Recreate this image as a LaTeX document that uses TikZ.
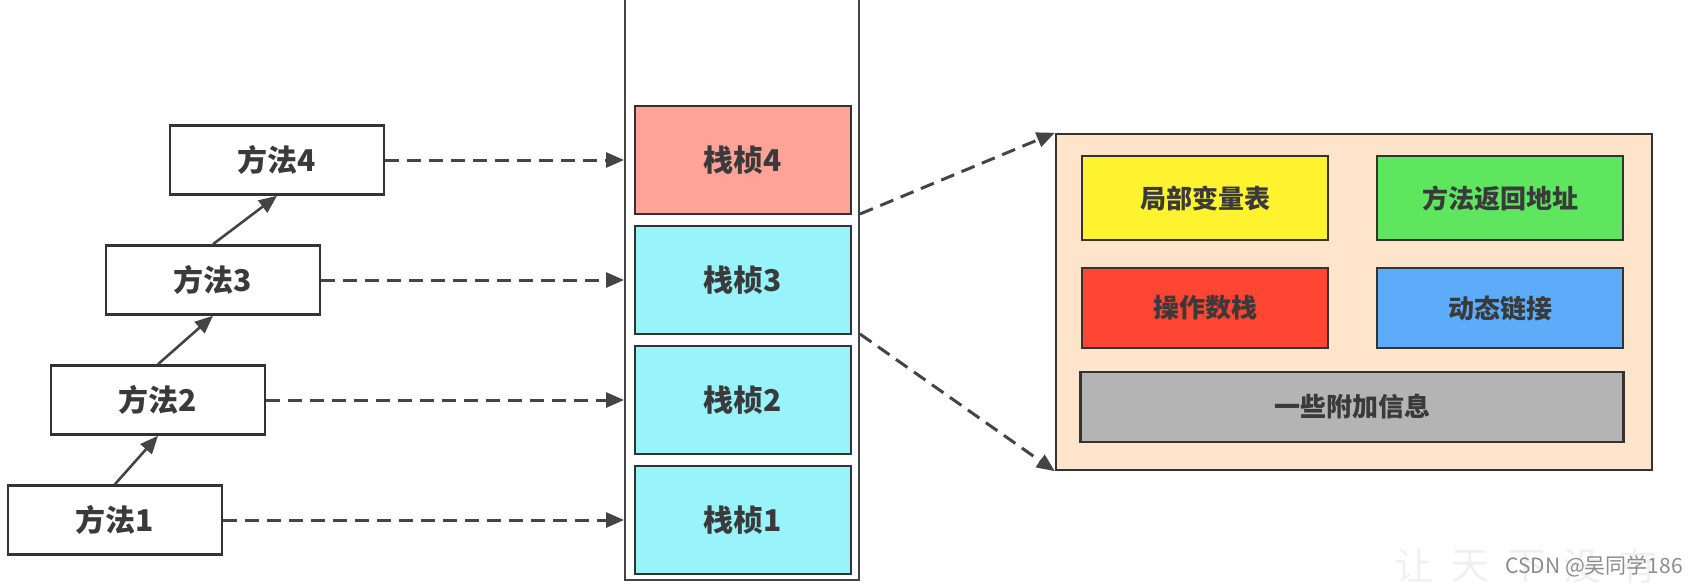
\documentclass[tikz,border=0pt]{standalone}
\usepackage{fontspec}
\usepackage{xcolor}
\usepackage{tikz}
\usetikzlibrary{arrows.meta, positioning}
\newfontfamily\cjkfont{Noto Sans CJK SC}
\newfontfamily\markfont{Noto Sans CJK SC}
\definecolor{textmain}{HTML}{3A3A3A}
\definecolor{boxline}{HTML}{333333}
\definecolor{linegray}{HTML}{444444}
\definecolor{framered}{HTML}{FFA399}
\definecolor{framecyan}{HTML}{99F3FB}
\definecolor{detailbg}{HTML}{FFE4CC}
\definecolor{localyellow}{HTML}{FFF22E}
\definecolor{retgreen}{HTML}{5EE65E}
\definecolor{opred}{HTML}{FF4632}
\definecolor{dynblue}{HTML}{5CACFA}
\definecolor{extragray}{HTML}{B4B4B4}
\definecolor{markgray}{HTML}{8C8C8C}
\tikzstyle{method} = [rectangle, minimum width=107pt, minimum height=34.5pt, draw=boxline, line width=1.3pt, fill=white, text=textmain, font=\cjkfont\bfseries\fontsize{15}{18}\selectfont]
\tikzstyle{frame} = [rectangle, minimum width=108pt, minimum height=54pt, outer sep=0pt, draw=boxline, line width=1.3pt, fill=framecyan, text=textmain, font=\cjkfont\bfseries\fontsize{15}{18}\selectfont]
\tikzstyle{stackcol} = [rectangle, minimum width=117pt, minimum height=295pt, draw=linegray, line width=1pt, fill=white]
\tikzstyle{detail} = [rectangle, minimum width=298pt, minimum height=168pt, draw=boxline, line width=1.2pt, fill=detailbg]
\tikzstyle{part} = [rectangle, minimum width=123pt, minimum height=42pt, draw=boxline, line width=1.2pt, text=textmain, font=\cjkfont\bfseries\fontsize{13}{16}\selectfont]
\tikzstyle{arrow} = [line width=1.3pt, -{Triangle[length=9pt, width=7.5pt]}, color=linegray]
\tikzstyle{dasharrow} = [arrow, line width=1.5pt, dash pattern=on 7pt off 4pt]

\begin{document}
\begin{tikzpicture}[x=0.5pt, y=-0.5pt]
    \useasboundingbox (0,0) rectangle (1699,584);
    \clip (0,0) rectangle (1699,584);

    % Stack with its frames
    \node[stackcol] (stack) at (742,285) {};
    \node[frame, fill=framered] (f4) at (743,160) {栈桢4};
    \node[frame, below=6pt of f4] (f3) {栈桢3};
    \node[frame, below=6pt of f3] (f2) {栈桢2};
    \node[frame, below=6pt of f2] (f1) {栈桢1};

    % Methods
    \node[method] (m4) at (277,160) {方法4};
    \node[method] (m3) at (213,280) {方法3};
    \node[method] (m2) at (158,400) {方法2};
    \node[method] (m1) at (115,520) {方法1};

    \draw[arrow] (m1.north) -- (m2.south);
    \draw[arrow] (m2.north) -- (m3.south);
    \draw[arrow] (m3.north) -- (m4.south);

    \draw[dasharrow] (m4.east) -- (m4.east -| stack.west);
    \draw[dasharrow] (m3.east) -- (m3.east -| stack.west);
    \draw[dasharrow] (m2.east) -- (m2.east -| stack.west);
    \draw[dasharrow] (m1.east) -- (m1.east -| stack.west);

    % Inside of a frame
    \node[detail] (detail) at (1354,302) {};
    \node[part, fill=localyellow] (locals) at (1205,198) {局部变量表};
    \node[part, fill=retgreen] (retaddr) at (1500,198) {方法返回地址};
    \node[part, fill=opred, minimum height=40pt] (opstack) at (1205,308) {操作数栈};
    \node[part, fill=dynblue, minimum height=40pt] (dynlink) at (1500,308) {动态链接};
    \node[part, fill=extragray, minimum width=271.5pt, minimum height=35pt] (extra) at (1352,407) {一些附加信息};

    \draw[dasharrow] (f4.south east -| stack.east) -- (detail.north west);
    \draw[dasharrow] (f3.south east -| stack.east) -- (detail.south west);

    % Watermark
    \foreach \c [count=\i] in {让,天,下,没,有}
        \node[text=black!6, font=\markfont\fontsize{19}{20}\selectfont] (w\i) at (1358+56*\i,566) {\c};
    \node[anchor=east, text=markgray, font=\markfont\fontsize{10.5}{12}\selectfont] (mark) at (1690,566) {CSDN @吴同学186};
\end{tikzpicture}
\end{document}
